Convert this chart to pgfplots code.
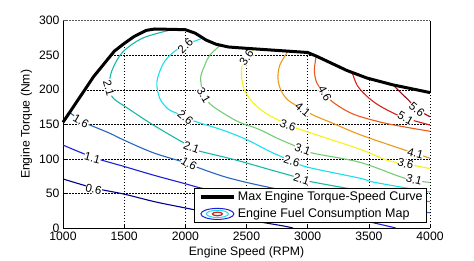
\documentclass[border=0pt]{standalone}
\usepackage{fontspec}
\setmainfont{Liberation Sans}
\usepackage{pgfplots}
\pgfplotsset{compat=1.18}
\definecolor{c06}{rgb}{0.00,0.00,0.55}
\definecolor{c11}{rgb}{0.12,0.12,0.85}
\definecolor{c16}{rgb}{0.15,0.40,0.75}
\definecolor{c21}{rgb}{0.10,0.72,0.65}
\definecolor{c26}{rgb}{0.10,0.88,0.92}
\definecolor{c31}{rgb}{0.45,0.80,0.45}
\definecolor{c36}{rgb}{0.97,0.95,0.10}
\definecolor{c41}{rgb}{0.92,0.60,0.10}
\definecolor{c46}{rgb}{0.92,0.35,0.10}
\definecolor{c51}{rgb}{0.85,0.12,0.10}
\definecolor{c56}{rgb}{0.60,0.03,0.08}
\newcommand{\fs}{\fontsize{12.2bp}{14.6bp}\selectfont}
\newcommand{\lfs}{\fontsize{12.5bp}{14.6bp}\selectfont}
\tikzset{lbl/.style={font=\fontsize{11.5bp}{13bp}\selectfont, fill=white, inner sep=0.3bp}}
\begin{document}
\begin{tikzpicture}
\useasboundingbox (0,0) rectangle (474bp,261bp);
\begin{axis}[
  at={(63bp,33bp)}, anchor=south west,
  width=367bp, height=207.3bp, scale only axis,
  xmin=1000, xmax=4000, ymin=0, ymax=300,
  xtick={1000,1500,...,4000}, ytick={0,50,...,300},
  axis x line*=bottom, axis y line*=left,
  axis line style={line width=0.7bp, black},
  tick align=inside, major tick length=3bp, tick style={black, line width=0.5bp},
  grid=major, grid style={black, line width=0.5bp, dash pattern=on 1.5bp off 1.5bp},
  clip=false,
  ticklabel style={font=\fs},
  /pgf/number format/assume math mode=true,
  /pgf/number format/1000 sep={},
  xlabel={Engine Speed (RPM)}, ylabel={Engine Torque (Nm)},
  label style={font=\fs},
  xlabel style={at={(axis description cs:0.5,0)}, anchor=north, yshift=-18bp, inner sep=0pt},
  ylabel style={at={(axis description cs:-0.0995,0.5)}, anchor=center, inner sep=0pt},
  legend style={at={(0.992,0.024)}, anchor=south east, draw=black, line width=0.7bp,
    fill=white, font=\lfs, inner xsep=2bp, inner ysep=1.5bp, row sep=2.5bp},
  legend cell align=left,
  every axis plot/.append style={line width=1.1bp, smooth, tension=0.55},
]
% white area above the max torque curve
\addplot[fill=white, draw=none, forget plot, line width=0pt, sharp plot] coordinates {
 (1000,153) (1250,219) (1420,256) (1500,267) (1580,277) (1680,286) (1750,288)
 (2000,287) (2080,282) (2170,272) (2250,266) (2350,262) (2500,260)
 (3000,254) (3080,248) (3320,228) (3485,217) (3700,207) (4000,196) (4000,300) (1000,300)} -- cycle;
\addplot[black, line width=0.7bp, forget plot, sharp plot] coordinates {(1000,0) (1000,300)};
\addplot[black, line width=0.7bp, forget plot, sharp plot] coordinates {(4000,196) (4000,300)};
% contours
\addplot[c06, forget plot] coordinates {(1000,71) (1250,58) (1500,49) (1750,38) (2000,29) (2200,22) (2400,15) (2600,9) (2800,3) (2880,0)};
\addplot[c11, forget plot] coordinates {(1000,120) (1250,102) (1500,89) (1750,76) (2000,64) (2100,59) (2300,51) (2600,40) (3000,27) (3400,13) (3720,0)};
\addplot[c16, forget plot] coordinates {(1057,167) (1147,155) (1220,149) (1384,137) (1500,127) (1736,109) (1956,97) (2030,93) (2080,89) (2324,74) (2600,62) (3000,48) (3500,35) (4000,22)};
\addplot[c21, forget plot] coordinates {(1890,287) (1654,275) (1490,255) (1410,232) (1384,217) (1375,203) (1410,188) (1523,174) (1711,152) (1900,132) (2050,117) (2100,112) (2400,99) (2700,84) (2900,74) (3000,68) (3500,52) (4000,38)};
\addplot[c26, forget plot] coordinates {(2130,274) (2000,265) (1900,254) (1820,238) (1768,212) (1790,188) (1860,172) (1932,166) (2000,160) (2100,153) (2300,142) (2500,128) (2700,110) (2870,97) (3000,88) (3428,72) (3550,66) (4000,52)};
\addplot[c31, forget plot] coordinates {(2283,264) (2200,250) (2160,236) (2125,217) (2150,192) (2200,180) (2267,171) (2430,154) (2600,143) (2750,130) (2960,114) (3050,108) (3428,95) (3795,72) (4000,66)};
\addplot[c36, forget plot] coordinates {(2560,259) (2500,247) (2463,234) (2462,215) (2490,197) (2560,180) (2650,167) (2750,157) (2840,149) (3000,139) (3428,114) (3650,98) (3800,93) (4000,86)};
\addplot[c41, forget plot] coordinates {(2840,256) (2773,236) (2757,217) (2780,200) (2840,185) (2960,172) (3050,163) (3200,152) (3428,135) (3740,116) (3880,108) (4000,101)};
\addplot[c46, forget plot] coordinates {(3070,249) (3055,228) (3075,210) (3140,195) (3207,182) (3370,165) (3600,153) (3800,146) (4000,140)};
\addplot[c51, forget plot] coordinates {(3362,226) (3403,207) (3470,193) (3560,180) (3680,168) (3800,159) (4000,149)};
\addplot[c56, forget plot] coordinates {(3700,207) (3760,196) (3830,184) (3893,172) (4000,161)};
% contour labels
\node[lbl, rotate=-13] at (axis cs:1250,56) {0.6};
\node[lbl, rotate=-15] at (axis cs:1240,101) {1.1};
\node[lbl, rotate=-30] at (axis cs:1147,155) {1.6};
\node[lbl, rotate=-30] at (axis cs:2030,93) {1.6};
\node[lbl, rotate=-75] at (axis cs:1375,203) {2.1};
\node[lbl, rotate=-20] at (axis cs:2050,117) {2.1};
\node[lbl, rotate=-18] at (axis cs:2950,71) {2.1};
\node[lbl, rotate=45] at (axis cs:2000,264) {2.6};
\node[lbl, rotate=-40] at (axis cs:2000,160) {2.6};
\node[lbl, rotate=-18] at (axis cs:2870,97) {2.6};
\node[lbl, rotate=-60] at (axis cs:2150,192) {3.1};
\node[lbl, rotate=-20] at (axis cs:2960,114) {3.1};
\node[lbl, rotate=-15] at (axis cs:3870,70) {3.1};
\node[lbl, rotate=55] at (axis cs:2500,246) {3.6};
\node[lbl, rotate=-20] at (axis cs:2840,149) {3.6};
\node[lbl, rotate=-15] at (axis cs:3800,93) {3.6};
\node[lbl, rotate=-40] at (axis cs:2960,172) {4.1};
\node[lbl, rotate=-15] at (axis cs:3880,108) {4.1};
\node[lbl, rotate=-62] at (axis cs:3140,195) {4.6};
\node[lbl, rotate=-30] at (axis cs:3800,159) {5.1};
\node[lbl, rotate=-40] at (axis cs:3893,172) {5.6};
% max torque curve
\addplot[black, line width=3bp, forget plot, sharp plot, line join=round] coordinates {
 (1000,153) (1250,219) (1420,256) (1500,267) (1580,277) (1680,286) (1750,288)
 (2000,287) (2080,282) (2170,272) (2250,266) (2350,262) (2500,260)
 (3000,254) (3080,248) (3320,228) (3485,217) (3700,207) (4000,196)};
% legend
\addlegendimage{legend image code/.code={\path (-4bp,0bp); \draw[black, line width=4bp] (0bp,0bp) -- (33bp,0bp);}}
\addlegendentry{Max Engine Torque-Speed Curve}
\addlegendimage{legend image code/.code={\path (-4bp,0bp);
  \draw[c11, line width=1bp] (16.5bp,0bp) ellipse (16.5bp and 5.5bp);
  \draw[c26, line width=1bp] (16.5bp,0bp) ellipse (11bp and 3.6bp);
  \draw[c51, line width=1.2bp] (16.5bp,0bp) ellipse (5bp and 1.8bp);}}
\addlegendentry{Engine Fuel Consumption Map}
\end{axis}
\end{tikzpicture}
\end{document}
